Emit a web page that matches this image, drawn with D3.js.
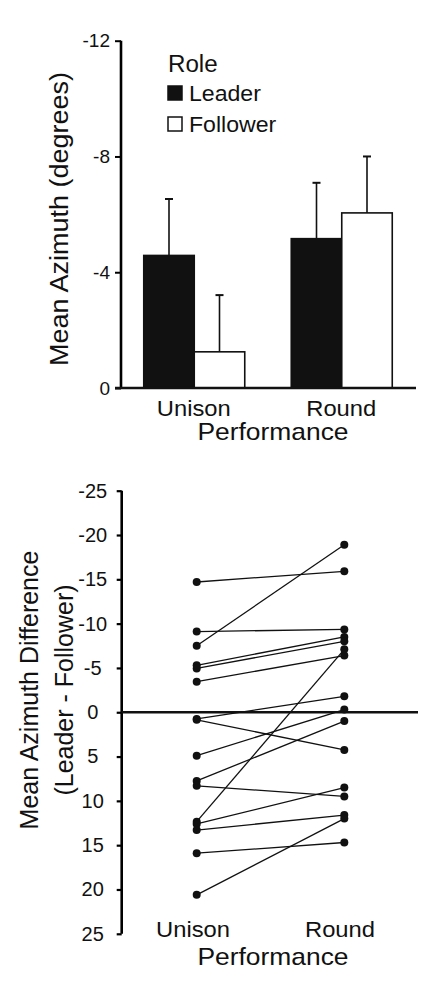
<!DOCTYPE html>
<html lang="en">
<head>
    <meta charset="UTF-8">
    <script src="https://d3js.org/d3.v7.min.js"></script>
    <title>Mean Azimuth by Role and Performance</title>
    <style>
        body { margin: 0; background: #fff; }
        svg text { font-family: "Liberation Sans", Arial, sans-serif; fill: #111; }
    </style>
</head>
<body>
<script>
    // top chart: mean azimuth per role
    const categories = ["Unison", "Round"];
    const roles = ["Leader", "Follower"];
    const leaderMean = [-4.58, -5.16];
    const leaderSE = [1.95, 1.93];
    const followerMean = [-1.25, -6.05];
    const followerSE = [1.96, 1.95];
    const topTicks = [0, -4, -8, -12];

    // bottom chart: leader - follower per pair
    const unisonDiff = [-14.7, -7.5, -9.1, -5.3, -4.95, -3.45, 0.75, 0.85, 4.9, 7.75, 8.3, 12.35, 12.6, 13.3, 15.9, 20.6];
    const roundDiff  = [-15.9, -18.9, -9.35, -8.5, -8.0, -6.4, -1.8, 4.25, -0.3, 1.0, 9.5, -7.1, 8.5, 11.6, 14.7, 12.0];
    const bottomTicks = [-25, -20, -15, -10, -5, 0, 5, 10, 15, 20, 25];

    const width = 432, height = 1002;
    const svg = d3.select("body").append("svg")
        .attr("width", width)
        .attr("height", height);

    const label = (txt, x, y, size, sx, anchor) => svg.append("text")
        .attr("transform", `translate(${x},${y}) scale(${sx},1)`)
        .attr("text-anchor", anchor || "middle")
        .attr("font-size", size + "px")
        .text(txt);

    const plainNum = d => String(d); // hyphen-minus like the original

    // ---------- top: bar chart ----------
    const yTop = d3.scaleLinear().domain([0, -12]).range([388, 40.7]);
    const xTop = d3.scaleBand().domain(categories).range([121, 416]);
    const xRole = d3.scaleBand().domain(roles)
        .range([xTop.bandwidth() / 2 - 51, xTop.bandwidth() / 2 + 50]);

    const barData = [];
    categories.forEach((c, i) => {
        barData.push({ cat: c, role: "Leader", v: leaderMean[i], se: leaderSE[i] });
        barData.push({ cat: c, role: "Follower", v: followerMean[i], se: followerSE[i] });
    });

    const barX = d => xTop(d.cat) + xRole(d.role);
    const barMid = d => barX(d) + xRole.bandwidth() / 2;

    // error bars (drawn first, bar covers the lower part)
    svg.selectAll("line.err")
        .data(barData)
        .join("line")
        .attr("class", "err")
        .attr("x1", barMid).attr("x2", barMid)
        .attr("y1", d => yTop(d.v))
        .attr("y2", d => yTop(d.v - d.se))
        .attr("stroke", "#111").attr("stroke-width", 1.6);
    svg.selectAll("line.cap")
        .data(barData)
        .join("line")
        .attr("class", "cap")
        .attr("x1", d => barMid(d) - 4).attr("x2", d => barMid(d) + 4)
        .attr("y1", d => yTop(d.v - d.se))
        .attr("y2", d => yTop(d.v - d.se))
        .attr("stroke", "#111").attr("stroke-width", 2);

    svg.selectAll("rect.bar")
        .data(barData)
        .join("rect")
        .attr("class", "bar")
        .attr("x", barX)
        .attr("y", d => yTop(d.v))
        .attr("width", xRole.bandwidth())
        .attr("height", d => yTop(0) - yTop(d.v))
        .attr("fill", d => d.role === "Leader" ? "#111" : "#fff")
        .attr("stroke", "#111")
        .attr("stroke-width", 1.6);

    const gyTop = svg.append("g")
        .attr("transform", "translate(121,0)")
        .call(d3.axisLeft(yTop).tickValues(topTicks).tickSize(6).tickPadding(5).tickFormat(plainNum));
    gyTop.select(".domain").attr("stroke-width", 2.6).attr("d", `M0,${yTop(-12)}V${yTop(0)}`);
    gyTop.selectAll(".tick line").attr("stroke-width", 2);
    gyTop.selectAll(".tick text").attr("font-size", "19px").attr("fill", "#222")
        .attr("font-family", "Liberation Sans, Arial, sans-serif");

    svg.append("line")
        .attr("x1", 115).attr("x2", 416)
        .attr("y1", yTop(0)).attr("y2", yTop(0))
        .attr("stroke", "#111").attr("stroke-width", 2.6);

    categories.forEach(c => label(c, xTop(c) + xTop.bandwidth() / 2 - 1, 416, 22, 1.08));
    label("Performance", 273, 440, 24, 1.1);

    svg.append("text")
        .attr("transform", "translate(68,219) rotate(-90) scale(1.08,1)")
        .attr("text-anchor", "middle")
        .attr("font-size", "25px")
        .text("Mean Azimuth (degrees)");

    // legend
    label("Role", 168, 72, 23, 1.05, "start");
    roles.forEach((r, i) => {
        svg.append("rect")
            .attr("x", 168).attr("y", 86 + i * 31)
            .attr("width", 14).attr("height", 14)
            .attr("fill", r === "Leader" ? "#111" : "#fff")
            .attr("stroke", "#111").attr("stroke-width", 1.5);
        label(r, 189, 101 + i * 31, 22, 1.05, "start");
    });

    // ---------- bottom: paired differences ----------
    const yBot = d3.scaleLinear().domain([-25, 25]).range([490.7, 933.8]);
    const xBot = d3.scalePoint().domain(categories).range([196.7, 344.3]);

    const pairs = unisonDiff.map((u, i) => ({ u: u, r: roundDiff[i] }));

    const gyBot = svg.append("g")
        .attr("transform", "translate(121.7,0)")
        .call(d3.axisLeft(yBot).tickValues(bottomTicks).tickSize(5).tickFormat(plainNum));
    gyBot.select(".domain").attr("stroke-width", 2.6).attr("d", `M0,${yBot(-25)}V${yBot(25)}`);
    gyBot.selectAll(".tick line").attr("stroke-width", 2.2);
    gyBot.selectAll(".tick text")
        .attr("text-anchor", "middle").attr("x", -29)
        .attr("font-size", "20px").attr("fill", "#222")
        .attr("font-family", "Liberation Sans, Arial, sans-serif");

    svg.append("line")
        .attr("x1", 121.7).attr("x2", 418)
        .attr("y1", yBot(0)).attr("y2", yBot(0))
        .attr("stroke", "#111").attr("stroke-width", 2.4);

    svg.selectAll("line.pair")
        .data(pairs)
        .join("line")
        .attr("class", "pair")
        .attr("x1", xBot("Unison")).attr("x2", xBot("Round"))
        .attr("y1", d => yBot(d.u)).attr("y2", d => yBot(d.r))
        .attr("stroke", "#111").attr("stroke-width", 1.3);

    const dots = pairs.flatMap(d => [{ c: "Unison", v: d.u }, { c: "Round", v: d.r }]);
    svg.selectAll("circle.dot")
        .data(dots)
        .join("circle")
        .attr("class", "dot")
        .attr("cx", d => xBot(d.c))
        .attr("cy", d => yBot(d.v))
        .attr("r", 4)
        .attr("fill", "#111");

    categories.forEach(c => label(c, c === "Unison" ? 193 : 340, 937, 22, 1.08));
    label("Performance", 273, 965, 24, 1.1);

    const yTitle = svg.append("text")
        .attr("transform", "translate(0,690) rotate(-90)")
        .attr("text-anchor", "middle")
        .attr("font-size", "25px");
    yTitle.append("tspan").attr("x", 0).attr("y", 38).text("Mean Azimuth Difference");
    yTitle.append("tspan").attr("x", 0).attr("y", 73).text("(Leader - Follower)");
</script>
</body>
</html>
